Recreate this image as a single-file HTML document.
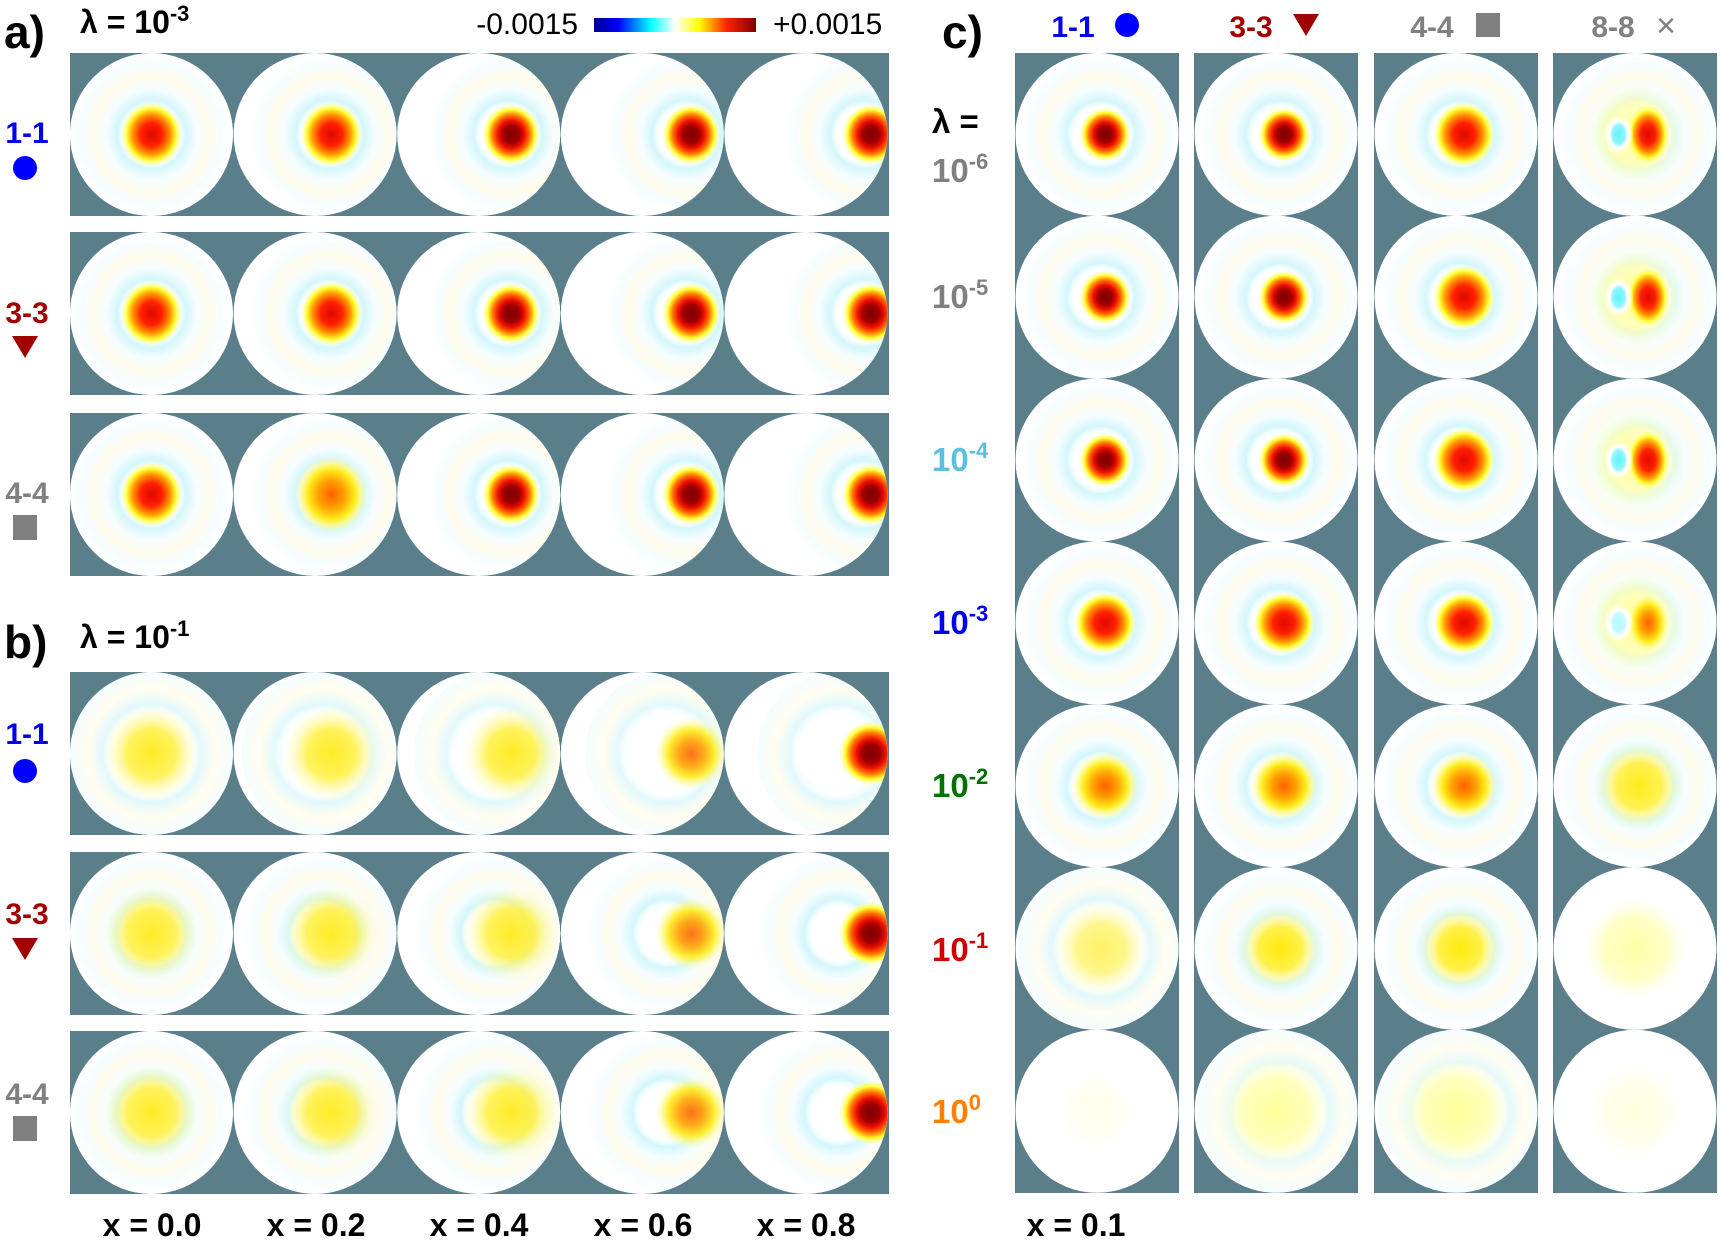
<!DOCTYPE html>
<html><head><meta charset="utf-8"><style>
html,body{margin:0;padding:0;background:#fff;}
svg{display:block;}
text{font-family:"Liberation Sans Narrow","Liberation Sans",sans-serif;font-weight:bold;}
</style></head><body>
<svg id="s" width="1721" height="1242" viewBox="0 0 1721 1242" xmlns="http://www.w3.org/2000/svg">
<defs>
<linearGradient id="cb" x1="0" x2="1" y1="0" y2="0">
<stop offset="0" stop-color="#00008f"/><stop offset="0.15" stop-color="#0000ff"/><stop offset="0.35" stop-color="#00ffff"/><stop offset="0.5" stop-color="#ffffff"/><stop offset="0.65" stop-color="#ffff00"/><stop offset="0.82" stop-color="#ff2000"/><stop offset="1" stop-color="#800000"/>
</linearGradient>
<radialGradient id="ring">
<stop offset="0" stop-color="#fff" stop-opacity="0"/><stop offset="0.3" stop-color="#fff" stop-opacity="0"/>
<stop offset="0.42" stop-color="#d4f7fc"/><stop offset="0.56" stop-color="#f6fdff"/><stop offset="0.72" stop-color="#fffcec"/><stop offset="0.85" stop-color="#f6fdff"/><stop offset="1" stop-color="#fff"/>
</radialGradient>
<radialGradient id="ringw">
<stop offset="0" stop-color="#fff" stop-opacity="0"/><stop offset="0.45" stop-color="#fff" stop-opacity="0"/>
<stop offset="0.6" stop-color="#e2f9fd"/><stop offset="0.78" stop-color="#fffdf0"/><stop offset="1" stop-color="#f4fdff"/>
</radialGradient>
<radialGradient id="hot">
<stop offset="0" stop-color="#7a0000"/><stop offset="0.28" stop-color="#a00000"/><stop offset="0.45" stop-color="#ee1000"/><stop offset="0.62" stop-color="#ff7000"/><stop offset="0.8" stop-color="#ffff30"/><stop offset="1" stop-color="#ffffc0" stop-opacity="0"/>
</radialGradient>
<radialGradient id="red">
<stop offset="0" stop-color="#e00800"/><stop offset="0.35" stop-color="#ff2000"/><stop offset="0.6" stop-color="#ff9000"/><stop offset="0.8" stop-color="#ffff30"/><stop offset="1" stop-color="#ffffc0" stop-opacity="0"/>
</radialGradient>
<radialGradient id="orange">
<stop offset="0" stop-color="#ff6000"/><stop offset="0.35" stop-color="#ffa000"/><stop offset="0.65" stop-color="#ffef20"/><stop offset="1" stop-color="#ffffc0" stop-opacity="0"/>
</radialGradient>
<radialGradient id="yel">
<stop offset="0" stop-color="#ffe800"/><stop offset="0.5" stop-color="#fff040"/><stop offset="1" stop-color="#ffffd0" stop-opacity="0"/>
</radialGradient>
<radialGradient id="pale">
<stop offset="0" stop-color="#ffff80"/><stop offset="0.6" stop-color="#ffffb0"/><stop offset="1" stop-color="#ffffe8" stop-opacity="0"/>
</radialGradient>
<radialGradient id="cyan">
<stop offset="0" stop-color="#60f4ff"/><stop offset="0.7" stop-color="#90f6ff"/><stop offset="1" stop-color="#ffffff"/>
</radialGradient>
<radialGradient id="wht">
<stop offset="0" stop-color="#fff"/><stop offset="0.7" stop-color="#fff"/><stop offset="1" stop-color="#fff" stop-opacity="0"/>
</radialGradient>
</defs>
<g id="g"></g>
<text x="4" y="48" font-size="46">a)</text>
<text x="80" y="33" font-size="32">λ = 10<tspan dy="-12" font-size="22">-3</tspan></text>
<text x="578" y="34" font-size="30" text-anchor="end" style="font-weight:normal">-0.0015</text>
<rect x="594" y="18" width="162" height="14" fill="url(#cb)"/>
<text x="773" y="34" font-size="30" style="font-weight:normal">+0.0015</text>

<text x="27" y="143" font-size="30" fill="#0000ee" text-anchor="middle">1-1</text>
<circle cx="25" cy="168" r="12" fill="#0000ff"/>
<text x="27" y="323" font-size="30" fill="#a00000" text-anchor="middle">3-3</text>
<polygon points="12,336 38,336 25,358" fill="#a00000"/>
<text x="27" y="503" font-size="30" fill="#808080" text-anchor="middle">4-4</text>
<rect x="13" y="515" width="24" height="25" fill="#808080"/>

<text x="4" y="658" font-size="46">b)</text>
<text x="80" y="648" font-size="32">λ = 10<tspan dy="-12" font-size="22">-1</tspan></text>
<text x="27" y="744" font-size="30" fill="#0000ee" text-anchor="middle">1-1</text>
<circle cx="25" cy="771" r="12" fill="#0000ff"/>
<text x="27" y="924" font-size="30" fill="#a00000" text-anchor="middle">3-3</text>
<polygon points="12,938 38,938 25,960" fill="#a00000"/>
<text x="27" y="1104" font-size="30" fill="#808080" text-anchor="middle">4-4</text>
<rect x="13" y="1116" width="24" height="25" fill="#808080"/>

<g font-size="32" text-anchor="middle">
<text x="152" y="1236">x = 0.0</text><text x="316" y="1236">x = 0.2</text><text x="479" y="1236">x = 0.4</text><text x="643" y="1236">x = 0.6</text><text x="806" y="1236">x = 0.8</text>
<text x="1076" y="1236">x = 0.1</text>
</g>

<text x="942" y="48" font-size="46">c)</text>
<text x="1073" y="37" font-size="30" fill="#0000ee" text-anchor="middle">1-1</text>
<circle cx="1127" cy="25" r="12" fill="#0000ff"/>
<text x="1251" y="37" font-size="30" fill="#a00000" text-anchor="middle">3-3</text>
<polygon points="1293,14 1319,14 1306,36" fill="#a00000"/>
<text x="1432" y="37" font-size="30" fill="#808080" text-anchor="middle">4-4</text>
<rect x="1476" y="13" width="24" height="24" fill="#808080"/>
<text x="1613" y="37" font-size="30" fill="#808080" text-anchor="middle">8-8</text>
<text x="1666" y="37" font-size="34" fill="#808080" text-anchor="middle" style="font-weight:normal">×</text>

<g font-size="33">
<text x="932" y="133">λ =</text>
<text x="932" y="182" fill="#808080">10<tspan dy="-13" font-size="22">-6</tspan></text>
<text x="932" y="308" fill="#808080">10<tspan dy="-13" font-size="22">-5</tspan></text>
<text x="932" y="471" fill="#5bc0e0">10<tspan dy="-13" font-size="22">-4</tspan></text>
<text x="932" y="634" fill="#0000ee">10<tspan dy="-13" font-size="22">-3</tspan></text>
<text x="932" y="797" fill="#007000">10<tspan dy="-13" font-size="22">-2</tspan></text>
<text x="932" y="961" fill="#d00000">10<tspan dy="-13" font-size="22">-1</tspan></text>
<text x="932" y="1123" fill="#ff8000">10<tspan dy="-13" font-size="22">0</tspan></text>
</g>
</svg>
<script>
var g=document.getElementById('g'),id=0,out='';
var BG='#5b7f8a';
function rect(x,y,w,h){out+='<rect x="'+x+'" y="'+y+'" width="'+w+'" height="'+h+'" fill="'+BG+'"/>';}
function circ(cx,cy,R,ring,ringoff,spots){
  id++;
  out+='<clipPath id="c'+id+'"><circle cx="'+cx+'" cy="'+cy+'" r="'+R+'"/></clipPath>';
  out+='<circle cx="'+cx+'" cy="'+cy+'" r="'+R+'" fill="#fff"/>';
  out+='<g clip-path="url(#c'+id+')">';
  if(ring) out+='<circle cx="'+(cx+ringoff*R)+'" cy="'+cy+'" r="'+R+'" fill="url(#'+ring+')"/>';
  spots.forEach(function(s){
    out+='<ellipse cx="'+(cx+s[0]*R)+'" cy="'+cy+'" rx="'+(s[2]*R)+'" ry="'+(s[2]*R*(s[4]||1))+'" fill="url(#'+s[1]+')" opacity="'+(s[3]||1)+'"/>';
  });
  out+='</g>';
}
var R=81.5,x0=70,pitch=163.6;
var offs=[0,0.2,0.4,0.6,0.8];
var ay=[53,232,413], by=[672,852,1031];
ay.forEach(function(y,ri){
  rect(x0,y,819,163);
  offs.forEach(function(o,i){
    var cx=x0+R+i*pitch, cy=y+81.5;
    var g1 = (i>=2)?'hot':'red';
    var rr = (i>=2)?0.36:0.38;
    if(ri==2&&i==1){g1='orange';rr=0.46;}
    circ(cx,cy,R,'ring',o*0.9,[[o,g1,rr,1,1.05]]);
  });
});
by.forEach(function(y,ri){
  rect(x0,y,819,163);
  offs.forEach(function(o,i){
    var cx=x0+R+i*pitch, cy=y+81.5;
    var sp;
    if(i<3) sp=[[o,'yel',0.6,0.85]];
    else if(i==3) sp=[[o,'orange',0.45,0.9]];
    else sp=[[o,'hot',0.4]];
    circ(cx,cy,R,ri==0?'ringw':'ring',o*0.5,sp);
  });
});
var cx0=[1015,1194,1374,1553];
cx0.forEach(function(x,ci){
  rect(x,53,164,1140);
  for(var r=0;r<7;r++){
    var cx=x+82, cy=53+81.5+r*162.8, sp=[], ring='ring';
    if(ci==3){
      if(r<4){
        var rs=r==3?'orange':'red';
        sp=[[0,'pale',0.62,0.8,1.05],[0.16,rs,0.26,1,1.4],[-0.2,'wht',0.18,1,1.3],[-0.2,'cyan',0.11,r==3?0.5:1,1.5]];
      }
      else if(r==4) sp=[[0.05,'yel',0.55,0.9]];
      else if(r==5){sp=[[0,'pale',0.65,0.7]];ring=null;}
      else {sp=[[0,'pale',0.6,0.25]];ring=null;}
    } else {
      if(r<3) sp=[[0.1,ci==2?'red':'hot',ci==2?0.38:0.32,1,1.05]];
      else if(r==3) sp=[[0.1,'red',0.38]];
      else if(r==4) sp=[[0.1,'orange',0.42]];
      else if(r==5){ sp=[[0.05,'yel',ci==0?0.6:0.52,ci==0?0.6:0.95]]; ring=ci==0?'ringw':'ring';}
      else { sp=ci==0?[[0,'pale',0.5,0.15]]:[[0,'pale',0.7,0.8]]; ring=ci==0?null:'ringw';}
    }
    circ(cx,cy,81.5,ring,0.05,sp);
  }
});
g.innerHTML=out;
</script>
</body></html>
